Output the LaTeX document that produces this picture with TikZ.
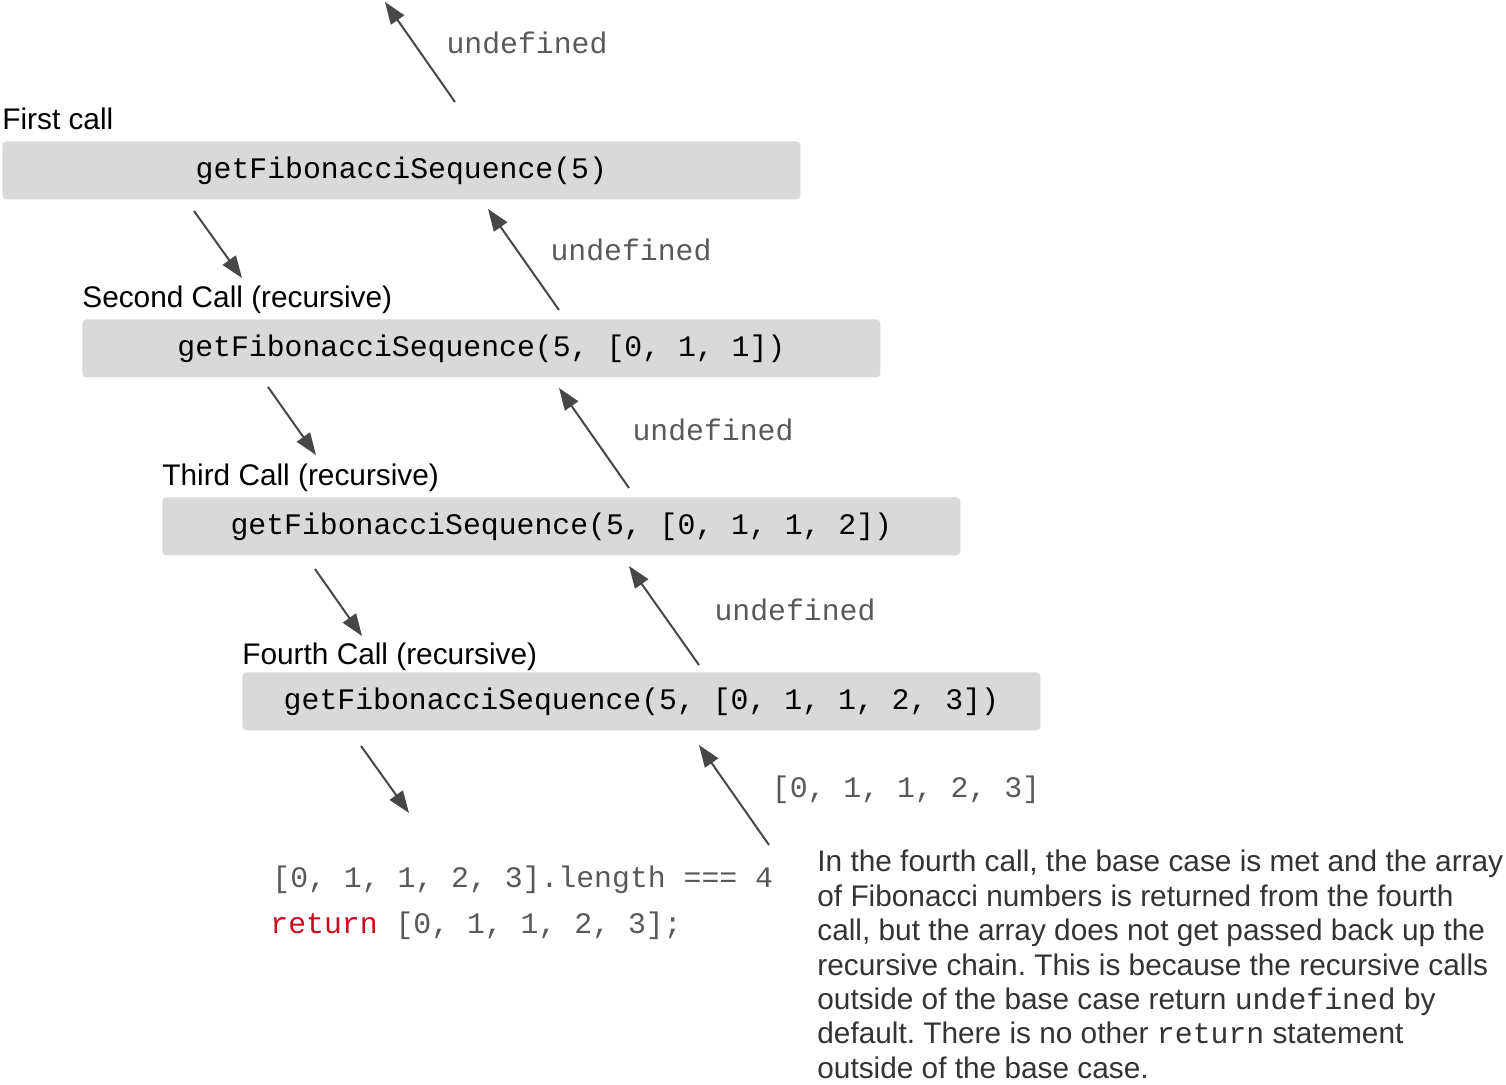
\documentclass[tikz,border=0pt]{standalone}
\usepackage{fontspec}
\setmainfont{Liberation Sans}
\setmonofont{Liberation Mono}
\usetikzlibrary{arrows.meta,positioning}
\definecolor{boxgray}{HTML}{D9D9D9}
\definecolor{arrowgray}{HTML}{474747}
\definecolor{labelgray}{HTML}{595959}
\definecolor{notegray}{HTML}{333333}
\definecolor{kwred}{HTML}{CC0A1E}
\frenchspacing

\begin{document}
\begin{tikzpicture}[x=0.5pt,y=-0.5pt,
  callbox/.style={fill=boxgray, rounded corners=2pt, minimum width=399pt, minimum height=29pt,
    anchor=north west, inner sep=0pt, font=\fontsize{14.9}{17}\ttfamily, text=black},
  calltitle/.style={anchor=base west, inner sep=0pt, font=\fontsize{14.9}{17}\selectfont},
  retval/.style={inner sep=0pt, font=\fontsize{14.9}{17}\ttfamily, text=labelgray},
  flow/.style={arrowgray, line width=1pt, -{Triangle[length=11pt,width=8pt]}}]
\useasboundingbox (0,0) rectangle (1506,1085);

% the four calls
\node[callbox] (call1) at (2,141) {getFibonacciSequence(5)};
\node[callbox] (call2) at (82,319) {getFibonacciSequence(5, [0, 1, 1])};
\node[callbox] (call3) at (162,497) {getFibonacciSequence(5, [0, 1, 1, 2])};
\node[callbox] (call4) at (242,672) {getFibonacciSequence(5, [0, 1, 1, 2, 3])};

\node[calltitle] (title1) at ([yshift=5.5pt]call1.north west) {First call};
\node[calltitle] (title2) at ([yshift=5.5pt]call2.north west) {Second Call (recursive)};
\node[calltitle] (title3) at ([yshift=5.5pt]call3.north west) {Third Call (recursive)};
\node[calltitle] (title4) at ([yshift=3.7pt]call4.north west) {Fourth Call (recursive)};

% going down
\coordinate (down1a) at (194,211); \coordinate (down1b) at (242,278);
\coordinate (down2a) at (268,387); \coordinate (down2b) at (316,455);
\coordinate (down3a) at (315,569); \coordinate (down3b) at (362,636);
\coordinate (down4a) at (361,746); \coordinate (down4b) at (409,813);
\draw[flow] (down1a) -- (down1b);
\draw[flow] (down2a) -- (down2b);
\draw[flow] (down3a) -- (down3b);
\draw[flow] (down4a) -- (down4b);

% coming back up
\coordinate (up0a) at (455,102); \coordinate (up0b) at (385,2);
\coordinate (up1a) at (559,310); \coordinate (up1b) at (488,209);
\coordinate (up2a) at (629,488); \coordinate (up2b) at (559,388);
\coordinate (up3a) at (699,665); \coordinate (up3b) at (629,566);
\coordinate (up4a) at (769,845); \coordinate (up4b) at (699,745);
\draw[flow] (up0a) -- (up0b);
\draw[flow] (up1a) -- (up1b);
\draw[flow] (up2a) -- (up2b);
\draw[flow] (up3a) -- (up3b);
\draw[flow] (up4a) -- (up4b);

\node[retval] (ret0) at (527,43) {undefined};
\node[retval] (ret1) at (631,250) {undefined};
\node[retval] (ret2) at (713,430) {undefined};
\node[retval] (ret3) at (795,610) {undefined};
\node[retval] (ret4) at (906,790) {[0, 1, 1, 2, 3]};

% base case
\node[retval, anchor=west] (base1) at (272,880) {[0, 1, 1, 2, 3].length === 4};
\node[retval, anchor=west] (base2) at (270,926) {\textcolor{kwred}{return} [0, 1, 1, 2, 3];};

\node[anchor=north west, inner sep=0pt, align=left, text=notegray,
  font=\fontsize{14.9}{17.2}\selectfont] (note) at (817,850)
  {In the fourth call, the base case is met and the array\\
   of Fibonacci numbers is returned from the fourth\\
   call, but the array does not get passed back up the\\
   recursive chain. This is because the recursive calls\\
   outside of the base case return \texttt{undefined} by\\
   default. There is no other \texttt{return} statement\\
   outside of the base case.};
\end{tikzpicture}
\end{document}
